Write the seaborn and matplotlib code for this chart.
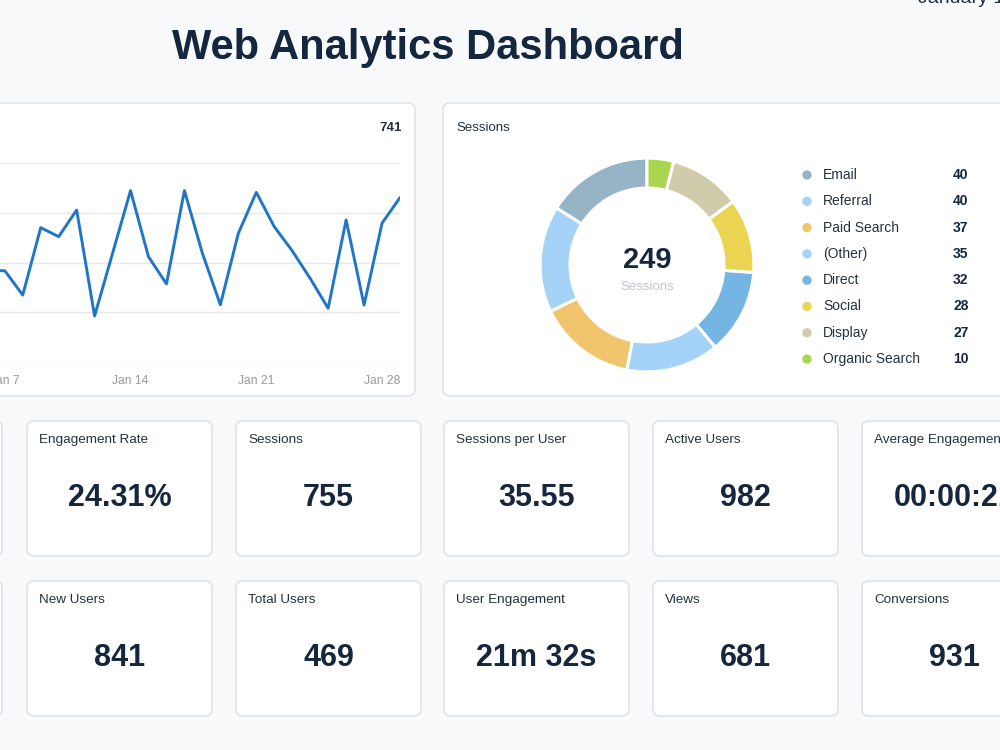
import matplotlib
matplotlib.use("Agg")
import matplotlib.pyplot as plt
import seaborn as sns
from matplotlib.patches import FancyBboxPatch

# ---- data ----
days = list(range(6, 30))
daily_sessions = [368, 367, 269, 540, 504, 611, 185, 437, 689, 423, 314, 689,
                  437, 230, 517, 682, 544, 447, 336, 216, 571, 229, 558, 661]
tick_days = [7, 14, 21, 28]
tick_labels = ["Jan 7", "Jan 14", "Jan 21", "Jan 28"]

channels = ["Email", "Referral", "Paid Search", "(Other)", "Direct",
            "Social", "Display", "Organic Search"]
channel_sessions = [40, 40, 37, 35, 32, 28, 27, 10]
channel_colors = ["#96b4c6", "#a5d3f8", "#f0c56e", "#a5d3f8", "#74b5e4",
                  "#ebd452", "#d0cbab", "#a9d64e"]

kpi_row1_labels = ["Engagement Rate", "Sessions", "Sessions per User",
                   "Active Users", "Average Engagement Time"]
kpi_row1_values = ["24.31%", "755", "35.55", "982", "00:00:21"]
kpi_row2_labels = ["New Users", "Total Users", "User Engagement", "Views",
                   "Conversions"]
kpi_row2_values = ["841", "469", "21m 32s", "681", "931"]

NAVY = "#14273e"
TEXT = "#26313f"
BG = "#f7f9fb"
BORDER = "#dde1e6"

sns.set_theme(style="white")
plt.rcParams["font.family"] = ["Liberation Sans", "DejaVu Sans"]

W, H = 1000, 750
fig = plt.figure(figsize=(10, 7.5), dpi=100, facecolor=BG)


def px_axes(x0, y0, x1, y1):
    return fig.add_axes([x0 / W, 1 - y1 / H, (x1 - x0) / W, (y1 - y0) / H])


# background layer in pixel coordinates for cards and text
bg = fig.add_axes([0, 0, 1, 1])
bg.set_xlim(0, W)
bg.set_ylim(H, 0)
bg.axis("off")
bg.set_zorder(0)


def card(x0, y0, x1, y1):
    bg.add_patch(FancyBboxPatch((x0, y0), x1 - x0, y1 - y0,
                                boxstyle="round,pad=0,rounding_size=7",
                                fc="white", ec=BORDER, lw=1.1))


# header
bg.text(428, 48, "Web Analytics Dashboard", ha="center", va="center",
        fontsize=30, fontweight="bold", color=NAVY)
bg.text(918, 3, "January 1 - January 31", ha="left", va="baseline",
        fontsize=14, color=TEXT)

# ---- line chart card ----
card(-20, 103, 415, 396)
bg.text(402, 128, "741", ha="right", va="center", fontsize=9.5,
        fontweight="bold", color=TEXT)

ax = px_axes(-103, 163, 400, 362)
ax.set_zorder(2)
ax.patch.set_alpha(0)
sns.lineplot(x=days, y=daily_sessions, ax=ax, color="#1f76c8", linewidth=2.1)
ax.set_xlim(1, 29)
ax.set_ylim(0, 800)
ax.set_yticks([0, 200, 400, 600, 800])
ax.grid(axis="y", color="#e7e7e7", linewidth=0.9)
ax.set_xticks(tick_days, labels=tick_labels)
ax.tick_params(axis="x", length=0, pad=9, labelsize=8.7, colors="#9a9a9a")
ax.tick_params(axis="y", length=0, labelleft=False)
ax.set_xlabel("")
ax.set_ylabel("")
for s in ax.spines.values():
    s.set_visible(False)

# ---- donut card ----
card(443, 103, 1020, 396)
bg.text(456, 128, "Sessions", ha="left", va="center", fontsize=9.5, color=TEXT)

dax = px_axes(539, 157, 755, 373)
dax.set_zorder(2)
dax.patch.set_alpha(0)
dax.pie(channel_sessions, colors=channel_colors, startangle=90,
        counterclock=True, radius=1,
        wedgeprops=dict(width=0.28, edgecolor="white", linewidth=2.2))
dax.set_xlim(-1.01, 1.01)
dax.set_ylim(-1.01, 1.01)
dax.set_aspect("equal")
bg.text(647, 260, str(sum(channel_sessions)), ha="center", va="center",
        fontsize=21, fontweight="bold", color=NAVY)
bg.text(647, 287, "Sessions", ha="center", va="center", fontsize=9.5,
        color="#c2c6cb")

# legend with counts
for i, (name, val, col) in enumerate(zip(channels, channel_sessions, channel_colors)):
    y = 175 + i * 26.3
    bg.scatter([807], [y], s=45, color=col, edgecolor="none")
    bg.text(823, y, name, ha="left", va="center", fontsize=10, color=TEXT)
    bg.text(953, y, str(val), ha="left", va="center", fontsize=10,
            fontweight="bold", color=NAVY)

# ---- KPI cards ----
col_x = [27, 236, 444, 653, 862]
card_w = 185
rows = [(421, kpi_row1_labels, kpi_row1_values),
        (581, kpi_row2_labels, kpi_row2_values)]
for y0, labels, values in rows:
    card(-182, y0, 2, y0 + 135)  # partly hidden card on the left edge
    for x0, lab, val in zip(col_x, labels, values):
        card(x0, y0, x0 + card_w, y0 + 135)
        bg.text(x0 + 12, y0 + 19, lab, ha="left", va="center",
                fontsize=9.7, color=TEXT)
        bg.text(x0 + card_w / 2, y0 + 77, val, ha="center", va="center",
                fontsize=22, fontweight="bold", color=NAVY)

fig.savefig("out.png", dpi=100, facecolor=fig.get_facecolor())
